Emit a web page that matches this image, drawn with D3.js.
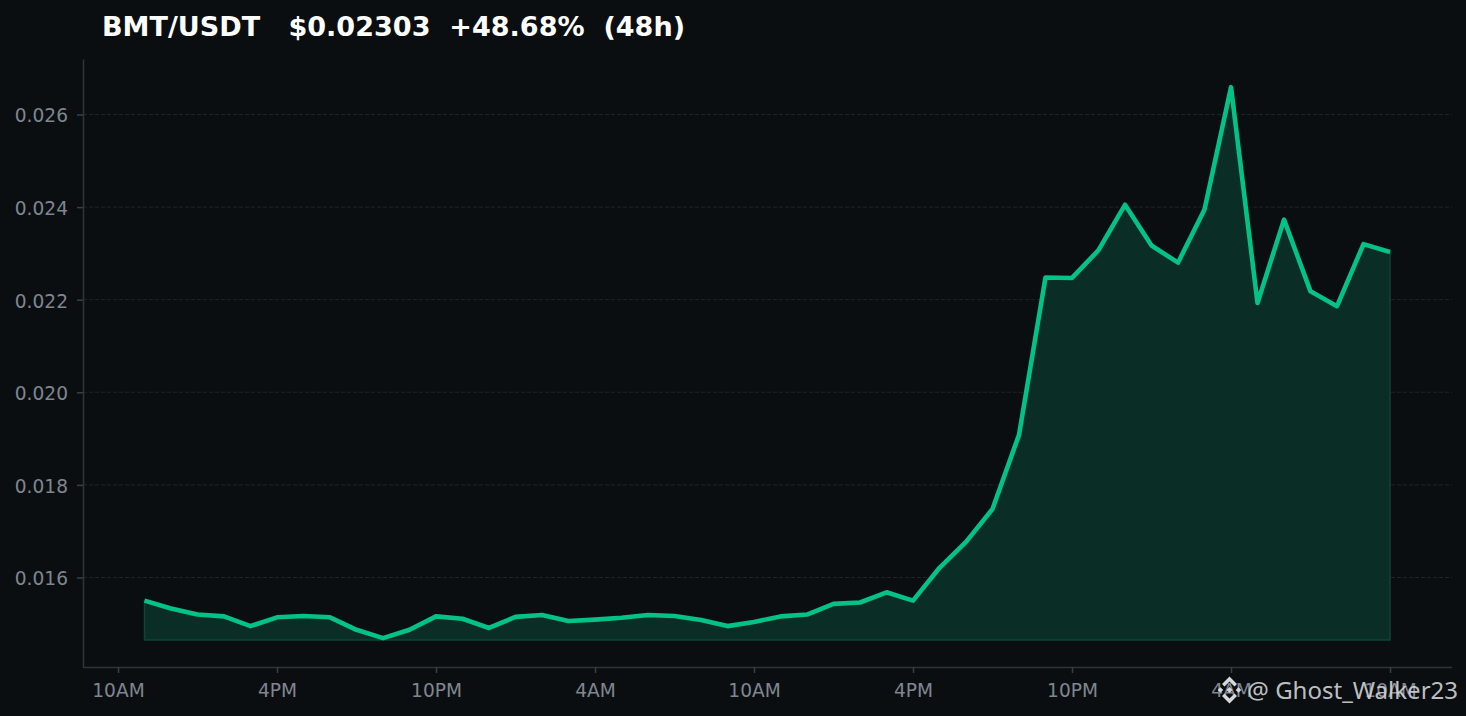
<!DOCTYPE html>
<html>
<head>
<meta charset="utf-8">
<script src="https://cdnjs.cloudflare.com/ajax/libs/d3/7.8.5/d3.min.js"></script>
<style>
  html, body { margin: 0; padding: 0; background: #0b0e11; overflow: hidden; }
  svg { display: block; }
  text { font-family: "DejaVu Sans", sans-serif; }
</style>
</head>
<body>
<svg width="1466" height="716"></svg>
<script>
// hours since the first 10AM tick
let hours = d3.range(1, 49);
let prices = [
  0.01550, 0.01533, 0.01520, 0.01516, 0.01495, 0.01514, 0.01517, 0.01514,
  0.01487, 0.01469, 0.01487, 0.01516, 0.01511, 0.01491, 0.01515, 0.01519,
  0.01506, 0.01509, 0.01513, 0.01519, 0.01517, 0.01508, 0.01495, 0.01504,
  0.01516, 0.01520, 0.01543, 0.01546, 0.01568, 0.01550, 0.01621, 0.01677,
  0.01748, 0.01908, 0.02248, 0.02247, 0.02307, 0.02405, 0.02317, 0.02280,
  0.02395, 0.02659, 0.02193, 0.02373, 0.02218, 0.02186, 0.02320, 0.02303
];
let baseline = 0.01465;
let xTickHours = [0, 6, 12, 18, 24, 30, 36, 42, 48];
let xTickLabels = ["10AM", "4PM", "10PM", "4AM", "10AM", "4PM", "10PM", "4AM", "10AM"];
let yTicks = [0.016, 0.018, 0.020, 0.022, 0.024, 0.026];
let titleText = "BMT/USDT   $0.02303  +48.68%  (48h)";
let watermark = "@ Ghost_Walker23";

let data = hours.map((h, i) => ({ h: h, p: prices[i] }));

let svg = d3.select("svg");
let margin = { left: 83, right: 1452, top: 59, bottom: 667 };

let xScale = d3.scaleLinear()
  .domain([-1.34, 50.32])
  .range([margin.left - 0.5, margin.right - 0.5]);
let yScale = d3.scaleLinear()
  .domain([0.016 - (667 - 577.5) / 46300, 0.026 + (114.5 - 59) / 46300])
  .range([margin.bottom, margin.top]);

// grid
svg.append("g").selectAll("line")
  .data(yTicks).enter()
  .append("line")
  .attr("x1", margin.left)
  .attr("x2", margin.right)
  .attr("y1", d => yScale(d))
  .attr("y2", d => yScale(d))
  .attr("stroke", "#1f2329")
  .attr("stroke-width", 1)
  .attr("stroke-dasharray", "4,2");

// area + line
let area = d3.area()
  .x(d => xScale(d.h))
  .y0(yScale(baseline))
  .y1(d => yScale(d.p));
svg.append("path")
  .datum(data)
  .attr("fill", "#0a2d26")
  .attr("stroke", "#0c4534")
  .attr("stroke-width", 1.5)
  .attr("d", area);

let line = d3.line()
  .x(d => xScale(d.h))
  .y(d => yScale(d.p));
svg.append("path")
  .datum(data)
  .attr("fill", "none")
  .attr("stroke", "#02c287")
  .attr("stroke-width", 4.6)
  .attr("stroke-linejoin", "round")
  .attr("d", line);

// axes
let xAxis = d3.axisBottom(xScale)
  .tickValues(xTickHours)
  .tickFormat((d, i) => xTickLabels[i])
  .tickSize(6)
  .tickSizeOuter(0)
  .tickPadding(11);
let yAxis = d3.axisLeft(yScale)
  .tickValues(yTicks)
  .tickFormat(d3.format(".3f"))
  .tickSize(6)
  .tickSizeOuter(0)
  .tickPadding(9);

let gx = svg.append("g")
  .attr("transform", "translate(0," + margin.bottom + ")")
  .call(xAxis);
let gy = svg.append("g")
  .attr("transform", "translate(" + margin.left + ",0)")
  .call(yAxis);

[gx, gy].forEach(g => {
  g.selectAll(".domain").attr("stroke", "#2f343b").attr("stroke-width", 1.5);
  g.selectAll(".tick line").attr("stroke", "#3a3f46").attr("stroke-width", 1.5);
  g.selectAll(".tick text")
    .attr("fill", "#7f8690")
    .style("font-family", '"DejaVu Sans", sans-serif')
    .style("font-size", "18.6px");
});
gy.selectAll(".tick text").attr("dy", "0.4em");

// title
svg.append("text")
  .attr("x", 102)
  .attr("y", 35.5)
  .attr("fill", "#ffffff")
  .attr("font-size", 27.05)
  .attr("font-weight", "bold")
  .style("white-space", "pre")
  .text(titleText);

// watermark: binance logo then handle
let logo = svg.append("g")
  .attr("transform", "translate(1229.5,690)")
  .attr("fill", "#d5d7da");
let chevron = "M0,-13.5L7.5,-6L5,-3.5L0,-8.5L-5,-3.5L-7.5,-6Z";
logo.append("path").attr("d", chevron);
logo.append("path").attr("d", chevron).attr("transform", "scale(1,-1)");
let diamonds = [[0, 3], [-9, 2.8], [9, 2.8]];
logo.selectAll(".dot")
  .data(diamonds).enter()
  .append("path")
  .attr("class", "dot")
  .attr("d", d => "M" + d[0] + "," + (-d[1]) + "L" + (d[0] + d[1]) + ",0L" + d[0] + "," + d[1] +
    "L" + (d[0] - d[1]) + ",0Z");

svg.append("text")
  .attr("x", 1458)
  .attr("y", 699)
  .attr("text-anchor", "end")
  .attr("fill", "#d5d7da")
  .attr("fill-opacity", 0.9)
  .attr("font-size", 24)
  .style("font-family", '"Noto Sans", sans-serif')
  .text(watermark);
</script>
</body>
</html>
